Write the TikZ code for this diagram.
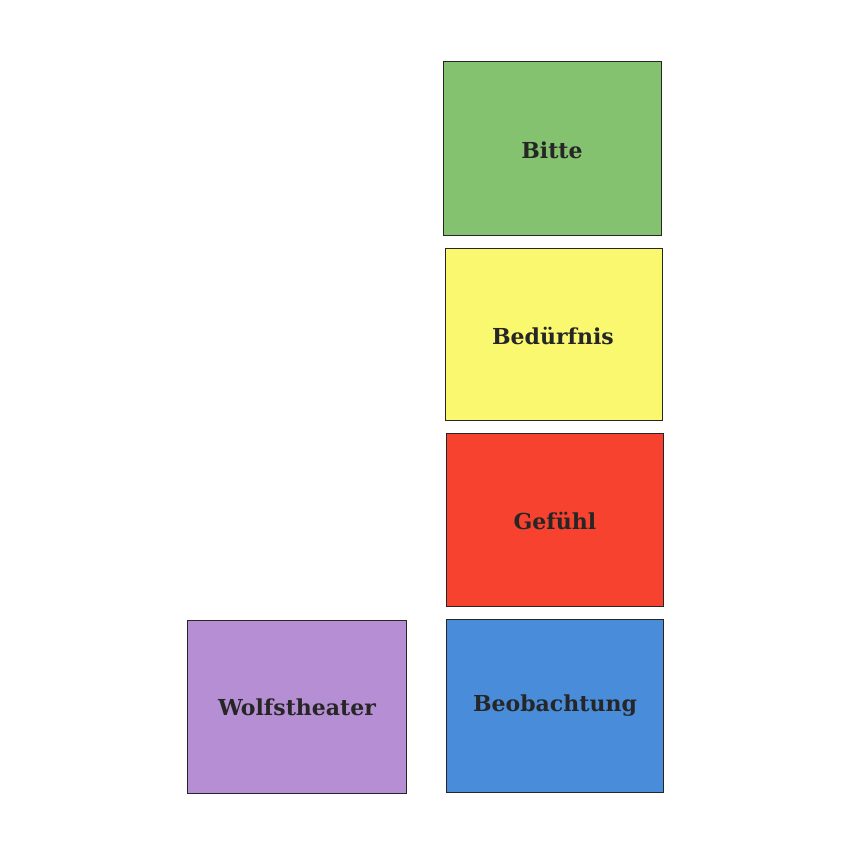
\documentclass[tikz,border=0pt]{standalone}
\usepackage{fontspec}
\setmainfont{DejaVu Serif}
\begin{document}
\begin{tikzpicture}[x=1pt,y=-1pt,
  card/.style={draw=black!85,line width=1pt},
  lbl/.style={font=\fontsize{22}{24}\selectfont\bfseries,text=black!85}]
\useasboundingbox (0,0) rectangle (850,850);
\definecolor{cgreen}{RGB}{132,194,112}
\definecolor{cyellow}{RGB}{250,248,110}
\definecolor{cred}{RGB}{246,66,46}
\definecolor{cblue}{RGB}{72,140,218}
\definecolor{cpurple}{RGB}{182,142,212}
\draw[card,fill=cgreen] (443,62) rectangle (661,235);
\node[lbl] (bitte) at (552,150) {Bitte};
\draw[card,fill=cyellow] (445,248) rectangle (662,420);
\node[lbl] (bed) at (553,336) {Bedürfnis};
\draw[card,fill=cred] (446,433) rectangle (663,606);
\node[lbl] (gef) at (555,521) {Gefühl};
\draw[card,fill=cblue] (446,619) rectangle (663,792);
\node[lbl] (beo) at (555,706) {Beobachtung};
\draw[card,fill=cpurple] (187,620) rectangle (406,793);
\node[lbl] (wolf) at (297,707) {Wolfstheater};
\end{tikzpicture}
\end{document}
